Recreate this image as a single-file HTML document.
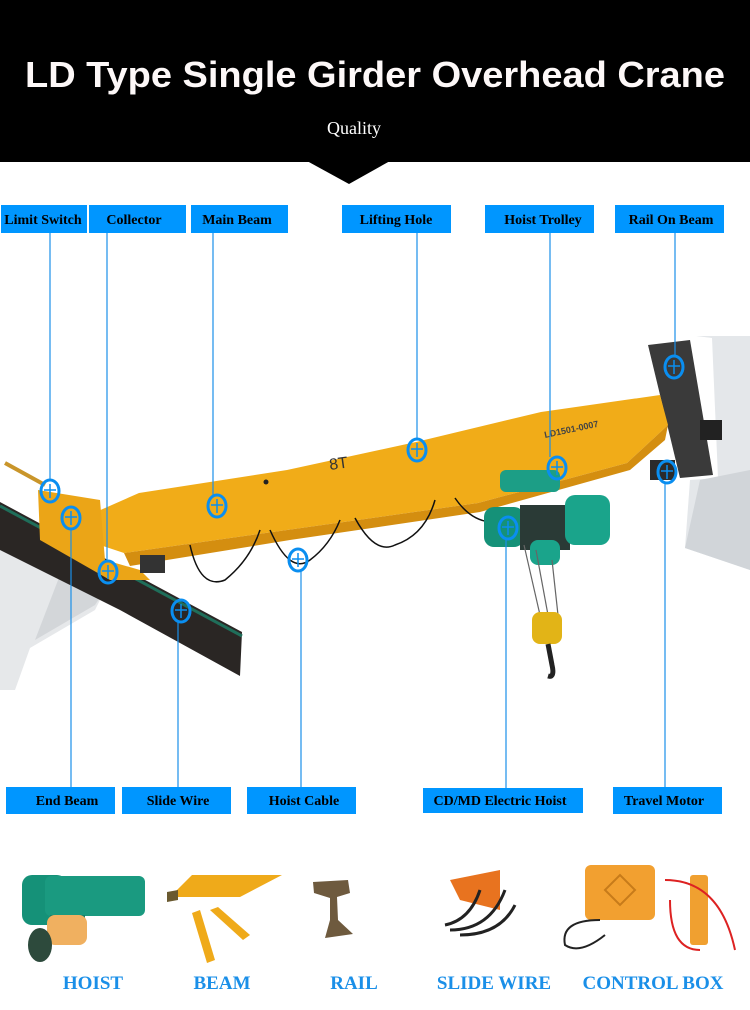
<!DOCTYPE html>
<html><head><meta charset="utf-8"><style>
html,body{margin:0;padding:0;background:#fff}
body{width:750px;height:1010px;overflow:hidden;position:relative}
svg{display:block}
</style></head><body>
<svg width="750" height="1010" viewBox="0 0 750 1010" xmlns="http://www.w3.org/2000/svg">
<rect width="750" height="1010" fill="#fff"/>
<!-- header -->
<rect x="0" y="0" width="750" height="162" fill="#000"/>
<polygon points="307,161 390,161 349,184" fill="#000"/>
<text x="25" y="87" textLength="700" lengthAdjust="spacingAndGlyphs" font-family="Liberation Sans, sans-serif" font-weight="bold" font-size="36" fill="#fdf8f8">LD Type Single Girder Overhead Crane</text>
<text x="354" y="134" text-anchor="middle" font-family="Liberation Serif, serif" font-size="18" fill="#fff">Quality</text>

<!-- gray pillars -->
<polygon points="0,555 0,690 15,690 30,648 95,610 105,590 100,560 70,560 0,545" fill="#e6e8ea"/>
<polygon points="35,640 95,605 105,590 100,565 60,575" fill="#d3d6d9"/>
<polygon points="696,336 750,336 750,570 685,548 690,480 718,478 712,338" fill="#e4e7ea"/>
<polygon points="700,480 750,470 750,570 685,548" fill="#d1d5d9"/>
<!-- rail -->
<polygon points="0,502 242,632 240,676 120,610 0,550" fill="#2a2624"/>
<line x1="0" y1="506" x2="242" y2="636" stroke="#1f6e5a" stroke-width="3"/>
<!-- right block -->
<polygon points="648,345 690,340 713,475 680,478" fill="#3a3a3a"/>
<rect x="700" y="420" width="22" height="20" fill="#222"/>
<rect x="650" y="460" width="25" height="20" fill="#2b2b2b"/>
<!-- beam -->
<polygon points="96,512 139,493 287,470 416,442 541,412 660,395 668,425 627,463 478,503 287,530 124,553 100,545" fill="#f1ac18"/>
<polygon points="124,553 287,530 478,503 627,463 668,425 665,440 630,470 480,512 290,540 130,566" fill="#d48e10"/>
<polygon points="38,490 100,500 105,560 140,570 150,580 110,580 40,540" fill="#eba517"/>
<line x1="5" y1="463" x2="45" y2="485" stroke="#c9952a" stroke-width="4"/>
<rect x="140" y="555" width="25" height="18" fill="#333"/>
<text x="330" y="470" font-family="Liberation Sans, sans-serif" font-size="16" fill="#333" transform="rotate(-8 330 470)">8T</text>
<text x="545" y="438" font-family="Liberation Sans, sans-serif" font-size="9" font-weight="bold" fill="#444" transform="rotate(-12 545 438)">LD1501-0007</text>
<circle cx="266" cy="482" r="2.5" fill="#222"/>
<!-- cables -->
<path d="M190,545 Q200,590 225,580 Q250,560 260,530" fill="none" stroke="#111" stroke-width="1.5"/>
<path d="M270,530 Q290,575 310,560 Q330,545 340,520" fill="none" stroke="#111" stroke-width="1.5"/>
<path d="M355,518 Q375,555 395,545 Q425,535 435,500" fill="none" stroke="#111" stroke-width="1.5"/>
<path d="M455,498 Q470,520 490,522" fill="none" stroke="#111" stroke-width="1.5"/>
<!-- hoist -->
<rect x="500" y="470" width="60" height="22" rx="6" fill="#1c9e86"/>
<rect x="484" y="507" width="40" height="40" rx="10" fill="#159178"/>
<rect x="520" y="505" width="50" height="45" fill="#2a3a36"/>
<rect x="565" y="495" width="45" height="50" rx="10" fill="#1aa48b"/>
<rect x="530" y="540" width="30" height="25" rx="8" fill="#1aa48b"/>
<line x1="524" y1="545" x2="540" y2="615" stroke="#666" stroke-width="1.2"/>
<line x1="536" y1="550" x2="548" y2="615" stroke="#666" stroke-width="1.2"/>
<line x1="552" y1="560" x2="558" y2="615" stroke="#666" stroke-width="1.2"/>
<rect x="532" y="612" width="30" height="32" rx="8" fill="#e2b417"/>
<path d="M548,644 L552,665 Q555,678 548,676" fill="none" stroke="#222" stroke-width="5"/>

<!-- connectors -->
<g stroke="#1a8fe8" stroke-width="1.2">
<line x1="50" y1="233" x2="50" y2="480"/>
<line x1="107" y1="233" x2="107" y2="562"/>
<line x1="213" y1="233" x2="213" y2="495"/>
<line x1="417" y1="233" x2="417" y2="439"/>
<line x1="550" y1="233" x2="550" y2="457"/>
<line x1="675" y1="233" x2="675" y2="356"/>
<line x1="71" y1="529" x2="71" y2="787"/>
<line x1="178" y1="622" x2="178" y2="787"/>
<line x1="301" y1="571" x2="301" y2="787"/>
<line x1="506" y1="539" x2="506" y2="788"/>
<line x1="665" y1="483" x2="665" y2="787"/>
</g>
<g fill="none" stroke="#0a8ef0" stroke-width="3">
<ellipse cx="50" cy="491" rx="9" ry="11"/>
<ellipse cx="71" cy="518" rx="9" ry="11"/>
<ellipse cx="108" cy="572" rx="9" ry="11"/>
<ellipse cx="181" cy="611" rx="9" ry="11"/>
<ellipse cx="217" cy="506" rx="9" ry="11"/>
<ellipse cx="298" cy="560" rx="9" ry="11"/>
<ellipse cx="417" cy="450" rx="9" ry="11"/>
<ellipse cx="557" cy="468" rx="9" ry="11"/>
<ellipse cx="508" cy="528" rx="9" ry="11"/>
<ellipse cx="674" cy="367" rx="9" ry="11"/>
<ellipse cx="667" cy="472" rx="9" ry="11"/>
</g>
<g stroke="#0a8ef0" stroke-width="1.5">
<path d="M50,484v14M44,490h12"/><path d="M71,511v14M65,517h12"/><path d="M108,565v14M102,571h12"/>
<path d="M181,604v14M175,610h12"/><path d="M217,499v14M211,505h12"/><path d="M298,553v14M292,559h12"/>
<path d="M417,443v14M411,449h12"/><path d="M557,461v14M551,467h12"/><path d="M508,521v14M502,527h12"/>
<path d="M674,360v14M668,366h12"/><path d="M667,465v14M661,471h12"/>
</g>

<!-- label boxes -->
<g fill="#0096ff">
<rect x="1" y="205" width="86" height="28"/><rect x="89" y="205" width="97" height="28"/><rect x="191" y="205" width="97" height="28"/>
<rect x="342" y="205" width="109" height="28"/><rect x="485" y="205" width="109" height="28"/><rect x="615" y="205" width="109" height="28"/>
<rect x="6" y="787" width="109" height="27"/><rect x="122" y="787" width="109" height="27"/><rect x="247" y="787" width="109" height="27"/>
<rect x="423" y="788" width="160" height="25"/><rect x="613" y="787" width="109" height="27"/>
</g>
<g font-family="Liberation Serif, serif" font-weight="bold" font-size="14" fill="#000" text-anchor="middle">
<text x="43" y="224">Limit Switch</text><text x="134" y="224">Collector</text><text x="237" y="224">Main Beam</text>
<text x="396" y="224">Lifting Hole</text><text x="543" y="224">Hoist Trolley</text><text x="671" y="224">Rail On Beam</text>
<text x="67" y="805">End Beam</text><text x="178" y="805">Slide Wire</text><text x="304" y="805">Hoist Cable</text>
<text x="500" y="805">CD/MD Electric Hoist</text><text x="664" y="805">Travel Motor</text>
</g>

<!-- bottom product images -->
<rect x="22" y="875" width="45" height="50" rx="10" fill="#159178"/>
<rect x="45" y="876" width="100" height="40" rx="6" fill="#1a9a80"/>
<rect x="50" y="915" width="35" height="22" fill="#157f69"/>
<rect x="47" y="915" width="40" height="30" rx="8" fill="#f0b060"/>
<ellipse cx="40" cy="945" rx="12" ry="17" fill="#2d4a3c"/>
<polygon points="167,900 192,875 282,875 240,897 172,897" fill="#efaa1a"/>
<polygon points="167,892 178,890 178,900 167,902" fill="#6a5a30"/>
<polygon points="192,913 200,910 215,960 207,963" fill="#efaa1a"/>
<polygon points="210,910 218,907 250,935 243,940" fill="#efaa1a"/>
<polygon points="313,882 348,880 350,893 337,897 338,920 353,934 325,938 330,920 330,898 314,893" fill="#6e5a3e"/>
<polygon points="450,880 500,870 500,910 460,900" fill="#e8731f"/>
<path d="M445,925 Q470,920 480,890 M450,930 Q490,930 505,890 M460,935 Q500,935 515,905" fill="none" stroke="#222" stroke-width="3"/>
<rect x="585" y="865" width="70" height="55" rx="6" fill="#f2a030"/>
<polygon points="605,890 620,875 635,890 620,905" fill="none" stroke="#c77b1a" stroke-width="2"/>
<rect x="690" y="875" width="18" height="70" rx="3" fill="#f0a030"/>
<path d="M665,880 Q720,880 735,950 M670,900 Q670,950 700,950" fill="none" stroke="#d22" stroke-width="2"/>
<path d="M600,920 Q560,920 565,945 Q580,955 605,935" fill="none" stroke="#222" stroke-width="2"/>
<g font-family="Liberation Serif, serif" font-weight="bold" font-size="19" fill="#1a8fe8" text-anchor="middle">
<text x="93" y="989">HOIST</text><text x="222" y="989">BEAM</text><text x="354" y="989">RAIL</text>
<text x="494" y="989">SLIDE WIRE</text><text x="653" y="989">CONTROL BOX</text>
</g>
</svg>
</body></html>
